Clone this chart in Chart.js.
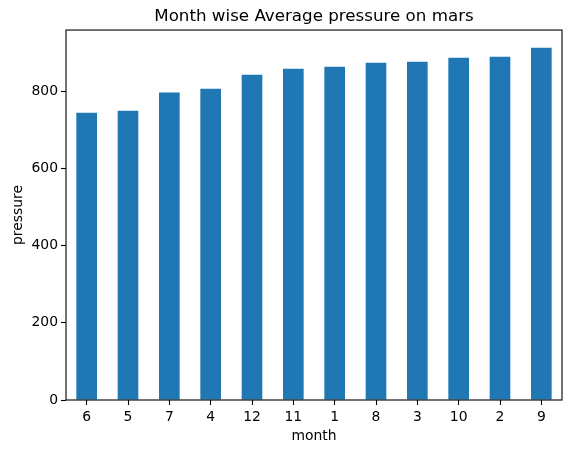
<!DOCTYPE html>
<html>
<head>
<meta charset="utf-8">
<script src="https://cdn.jsdelivr.net/npm/chart.js@4"></script>
<style>
  html, body { margin: 0; padding: 0; background: #fff; }
  canvas { display: block; }
</style>
</head>
<body>
<canvas id="pressure_chart" width="571" height="453"></canvas>
<script>
const months = ['6', '5', '7', '4', '12', '11', '1', '8', '3', '10', '2', '9'];
const pressure = [744, 749, 796, 806, 842, 858, 863, 873, 876, 886, 889, 912];
const yTicks = [0, 200, 400, 600, 800];

// draws the full box round the plot, like matplotlib spines
const frame = {
  id: 'frame',
  afterDraw(chart) {
    const { ctx, chartArea: a } = chart;
    ctx.save();
    ctx.strokeStyle = '#000';
    ctx.lineWidth = 1.1;
    ctx.strokeRect(a.left, a.top, a.right - a.left, a.bottom - a.top);
    ctx.restore();
  }
};

const ctx = document.getElementById('pressure_chart').getContext('2d');
const chart = new Chart(ctx, {
  type: 'bar',
  data: {
    labels: months,
    datasets: [{
      label: 'pressure',
      data: pressure,
      backgroundColor: '#1f77b4',
      borderWidth: 0,
      barPercentage: 0.5,
      categoryPercentage: 1.0
    }]
  },
  options: {
    responsive: false,
    animation: false,
    devicePixelRatio: 1,
    layout: { padding: { left: 6, right: 9, top: 0, bottom: 4 } },
    plugins: {
      legend: { display: false },
      tooltip: { enabled: false },
      title: {
        display: true,
        fullSize: false,
        text: 'Month wise Average pressure on mars',
        color: '#000',
        font: { family: 'DejaVu Sans', size: 16.7, weight: 'normal' },
        padding: { top: 7, bottom: 3 }
      }
    },
    scales: {
      x: {
        offset: true,
        grid: { display: true, drawOnChartArea: false, offset: false, tickLength: 5, color: '#000', tickWidth: 1.1 },
        border: { display: false },
        ticks: { color: '#000', padding: 4, maxRotation: 0, font: { family: 'DejaVu Sans', size: 13.9 } },
        title: { display: true, text: 'month', color: '#000', font: { family: 'DejaVu Sans', size: 13.9 } },
        afterFit(scale) { scale.height = 49; }
      },
      y: {
        min: 0,
        max: 958,
        grid: { display: true, drawOnChartArea: false, tickLength: 5, color: '#000', tickWidth: 1.1 },
        border: { display: false },
        afterBuildTicks(scale) { scale.ticks = yTicks.map(v => ({ value: v })); },
        ticks: { color: '#000', padding: 3, font: { family: 'DejaVu Sans', size: 13.9 } },
        title: { display: true, text: 'pressure', color: '#000', font: { family: 'DejaVu Sans', size: 13.9 } },
        afterFit(scale) { scale.width = 60; }
      }
    }
  },
  plugins: [frame]
});
</script>
</body>
</html>
